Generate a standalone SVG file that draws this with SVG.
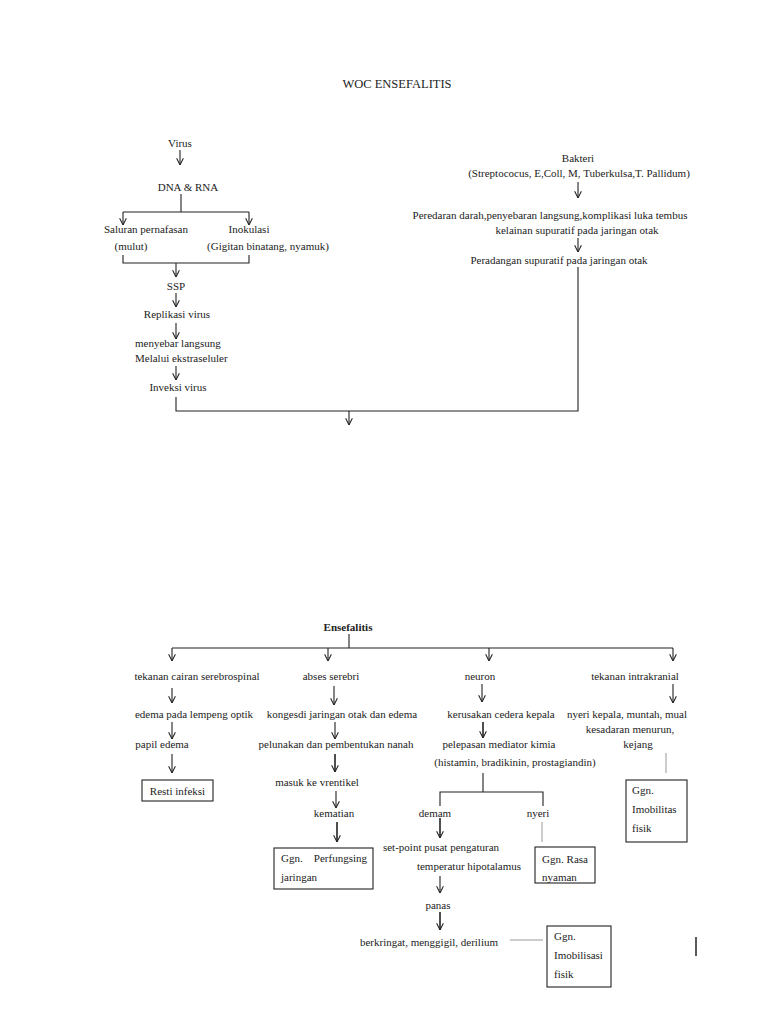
<svg xmlns="http://www.w3.org/2000/svg" width="768" height="1024" viewBox="0 0 768 1024">
<defs>
<marker id="ah" viewBox="0 0 10 10" refX="9.5" refY="5" markerWidth="8" markerHeight="8" markerUnits="userSpaceOnUse" orient="auto">
<path d="M1,0.8 L9.5,5 L1,9.2" fill="none" stroke="#222" stroke-width="1.3"/>
</marker>
</defs>
<style>
text{font-family:"Liberation Serif","Times New Roman",serif;font-size:11px;fill:#222}
.m{text-anchor:middle}
.t{font-size:12.5px}
.b{font-weight:bold}
.c{stroke:#222;stroke-width:1.1;fill:none}
.a{stroke:#222;stroke-width:1.1;fill:none;marker-end:url(#ah)}
.ab{stroke:#222;stroke-width:1.6;fill:none;marker-end:url(#ah)}
.f{stroke:#999;stroke-width:1;fill:none}
.box{fill:#fff;stroke:#222;stroke-width:1.1}
</style>
<rect width="768" height="1024" fill="#fff"/>
<g id="title"><text class="m t" x="397" y="88">WOC ENSEFALITIS</text></g>

<g id="connectors">
<path class="a" d="M180,150 V165"/>
<path class="c" d="M181,194 V212 M123,212 H249"/>
<path class="a" d="M123,212 V225"/>
<path class="a" d="M249,212 V225"/>
<path class="c" d="M123,255 V263 H249 V255"/>
<path class="a" d="M176,263 V277"/>
<path class="a" d="M176,293 V307"/>
<path class="a" d="M176,323 V339"/>
<path class="a" d="M176,366 V380"/>
<path class="c" d="M176,397 V411 H578 V267"/>
<path class="a" d="M349,411 V425"/>
<path class="a" d="M578,182 V198"/>
<path class="a" d="M578,238 V252"/>

<path class="c" d="M349,634 V648 M172,648 H673"/>
<path class="a" d="M172,648 V661"/>
<path class="a" d="M328,648 V661"/>
<path class="a" d="M489,648 V661"/>
<path class="a" d="M673,648 V661"/>
<path class="a" d="M172,688 V703"/>
<path class="a" d="M334,686 V705"/>
<path class="a" d="M482,684 V702"/>
<path class="a" d="M673,684 V703"/>
<path class="a" d="M172,722 V739"/>
<path class="a" d="M335,722 V739"/>
<path class="ab" d="M483,722 V738"/>
<path class="a" d="M172,754 V773"/>
<path class="ab" d="M335,754 V772"/>
<path class="a" d="M336,791 V808"/>
<path class="ab" d="M337,822 V842"/>
<path class="c" d="M483,773 V792 M440,806 V792 H543 V806"/>
<path class="ab" d="M440,818 V838"/>
<path class="a" d="M440,876 V893"/>
<path class="ab" d="M440,912 V930"/>
<path class="f" d="M510,940 H543"/>
<path class="f" d="M542,822 V842"/>
<path class="f" d="M666,753 V773"/>
<path stroke="#222" stroke-width="1.5" d="M696,937 V956"/>
</g>

<g id="virus"><text class="m" x="180" y="147">Virus</text></g>
<g id="dna"><text class="m" x="188" y="191">DNA &amp; RNA</text></g>
<g id="saluran"><text class="m" x="146" y="233">Saluran pernafasan</text><text class="m" x="131" y="250">(mulut)</text></g>
<g id="inokulasi"><text class="m" x="249" y="233">Inokulasi</text><text class="m" x="268" y="250">(Gigitan binatang, nyamuk)</text></g>
<g id="ssp"><text class="m" x="176" y="290">SSP</text></g>
<g id="replikasi"><text class="m" x="177" y="318">Replikasi virus</text></g>
<g id="menyebar"><text x="135" y="347">menyebar langsung</text><text x="135" y="362">Melalui ekstraseluler</text></g>
<g id="inveksi"><text class="m" x="178" y="391">Inveksi virus</text></g>

<g id="bakteri"><text class="m" x="578" y="162">Bakteri</text><text class="m" x="579" y="177">(Streptococus, E,Coll, M, Tuberkulsa,T. Pallidum)</text></g>
<g id="peredaran"><text class="m" x="550" y="219">Peredaran darah,penyebaran langsung,komplikasi luka tembus</text><text class="m" x="577" y="234">kelainan supuratif pada jaringan otak</text></g>
<g id="peradangan"><text class="m" x="559" y="264">Peradangan supuratif pada jaringan otak</text></g>

<g id="ensefalitis"><text class="m b" x="348" y="631">Ensefalitis</text></g>
<g id="tekanan-cairan"><text class="m" x="197" y="680">tekanan cairan serebrospinal</text></g>
<g id="abses"><text class="m" x="331" y="680">abses serebri</text></g>
<g id="neuron"><text class="m" x="480" y="680">neuron</text></g>
<g id="tekanan-intrakranial"><text class="m" x="635" y="680">tekanan intrakranial</text></g>
<g id="edema"><text class="m" x="194" y="718">edema pada lempeng optik</text></g>
<g id="kongesdi"><text class="m" x="342" y="718">kongesdi jaringan otak dan edema</text></g>
<g id="kerusakan"><text class="m" x="501" y="718">kerusakan cedera kepala</text></g>
<g id="nyeri-kepala"><text class="m" x="627" y="718">nyeri kepala, muntah, mual</text><text class="m" x="630" y="733">kesadaran menurun,</text><text class="m" x="638" y="748">kejang</text></g>
<g id="papil"><text class="m" x="162" y="748">papil edema</text></g>
<g id="pelunakan"><text class="m" x="336" y="748">pelunakan dan pembentukan nanah</text></g>
<g id="pelepasan"><text class="m" x="499" y="748">pelepasan mediator kimia</text><text class="m" x="515" y="766">(histamin, bradikinin, prostagiandin)</text></g>
<g id="resti"><rect class="box" x="142" y="780" width="71" height="21"/><text class="m" x="177.5" y="795">Resti infeksi</text></g>
<g id="masuk"><text class="m" x="317" y="786">masuk ke vrentikel</text></g>
<g id="kematian"><text class="m" x="334" y="817">kematian</text></g>
<g id="perfungsing"><rect class="box" x="274" y="848" width="99" height="41"/><text x="281" y="862">Ggn.</text><text x="367" y="862" text-anchor="end">Perfungsing</text><text x="281" y="881">jaringan</text></g>
<g id="demam"><text class="m" x="435" y="817">demam</text></g>
<g id="nyeri"><text class="m" x="538" y="817">nyeri</text></g>
<g id="setpoint"><text class="m" x="441" y="851">set-point pusat pengaturan</text><text class="m" x="469" y="870">temperatur hipotalamus</text></g>
<g id="panas"><text class="m" x="438" y="909">panas</text></g>
<g id="berkringat"><text class="m" x="429" y="946">berkringat, menggigil, derilium</text></g>
<g id="rasa-nyaman"><rect class="box" x="535" y="847" width="60" height="36"/><text x="542" y="863">Ggn.</text><text x="588" y="863" text-anchor="end">Rasa</text><text x="542" y="881">nyaman</text></g>
<g id="imobilisasi"><rect class="box" x="547" y="926" width="64" height="61"/><text x="554" y="940">Ggn.</text><text x="554" y="959">Imobilisasi</text><text x="554" y="978">fisik</text></g>
<g id="imobilitas"><rect class="box" x="626" y="780" width="61" height="62"/><text x="632" y="794">Ggn.</text><text x="632" y="813">Imobilitas</text><text x="632" y="832">fisik</text></g>
</svg>
